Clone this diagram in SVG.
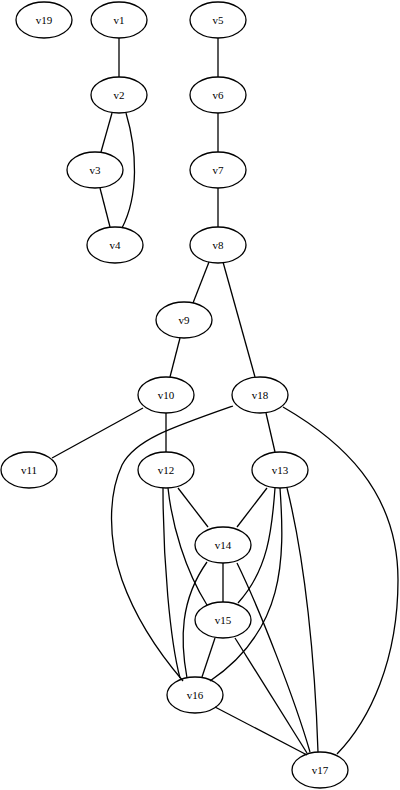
<svg xmlns="http://www.w3.org/2000/svg" width="400" height="790" viewBox="0 0 400 790">
<style>
.n ellipse{fill:none;stroke:#000;stroke-width:1.3}
.n text{font-family:"Liberation Serif","DejaVu Serif",serif;font-size:11px;text-anchor:middle;dominant-baseline:central;fill:#000}
.e path{fill:none;stroke:#000;stroke-width:1.3}
</style>
<rect width="400" height="790" fill="#fff"/>
<g id="edges" class="e">
<path d="M119,38 L119,77"/>
<path d="M112,113 L101,152"/>
<path d="M126,113 C137,150 139,195 122,228"/>
<path d="M100,188 L110,227"/>
<path d="M218,38 L218,77"/>
<path d="M218,113 L218,152"/>
<path d="M218,188 L218,227"/>
<path d="M209,262 L193,303"/>
<path d="M223,262 L255,377"/>
<path d="M180,338 L170,377"/>
<path d="M143,408 L52,458"/>
<path d="M166,413 L166,452"/>
<path d="M266,413 L275,452"/>
<path d="M233,406 C170,428 135,440 122,465 C108,495 108,540 122,580 C138,625 165,660 183,681"/>
<path d="M283,407 C340,440 398,490 398,580 C398,660 370,720 337,754"/>
<path d="M178,488 L208,527"/>
<path d="M168,488 C172,525 185,570 207,605"/>
<path d="M163,488 C163,560 170,640 180,678"/>
<path d="M267,488 L237,527"/>
<path d="M275,488 C272,530 268,570 238,603"/>
<path d="M280,488 C285,560 285,630 210,681"/>
<path d="M287,488 C305,560 315,660 318,752"/>
<path d="M223,563 L223,602"/>
<path d="M207,562 C180,600 180,640 187,678"/>
<path d="M237,563 C260,610 295,700 310,752"/>
<path d="M215,638 L202,677"/>
<path d="M235,638 L307,753"/>
<path d="M215,707 L307,755"/>
</g>
<g id="v19" class="n"><ellipse cx="44" cy="20" rx="28" ry="18"/><text x="44" y="20">v19</text></g>
<g id="v1" class="n"><ellipse cx="119" cy="20" rx="28" ry="18"/><text x="119" y="20">v1</text></g>
<g id="v5" class="n"><ellipse cx="218" cy="20" rx="28" ry="18"/><text x="218" y="20">v5</text></g>
<g id="v2" class="n"><ellipse cx="119" cy="95" rx="28" ry="18"/><text x="119" y="95">v2</text></g>
<g id="v6" class="n"><ellipse cx="218" cy="95" rx="28" ry="18"/><text x="218" y="95">v6</text></g>
<g id="v3" class="n"><ellipse cx="95" cy="170" rx="28" ry="18"/><text x="95" y="170">v3</text></g>
<g id="v7" class="n"><ellipse cx="218" cy="170" rx="28" ry="18"/><text x="218" y="170">v7</text></g>
<g id="v4" class="n"><ellipse cx="115" cy="245" rx="28" ry="18"/><text x="115" y="245">v4</text></g>
<g id="v8" class="n"><ellipse cx="218" cy="245" rx="28" ry="18"/><text x="218" y="245">v8</text></g>
<g id="v9" class="n"><ellipse cx="184" cy="320" rx="28" ry="18"/><text x="184" y="320">v9</text></g>
<g id="v10" class="n"><ellipse cx="166" cy="395" rx="28" ry="18"/><text x="166" y="395">v10</text></g>
<g id="v18" class="n"><ellipse cx="260" cy="395" rx="28" ry="18"/><text x="260" y="395">v18</text></g>
<g id="v11" class="n"><ellipse cx="29" cy="470" rx="28" ry="18"/><text x="29" y="470">v11</text></g>
<g id="v12" class="n"><ellipse cx="166" cy="470" rx="28" ry="18"/><text x="166" y="470">v12</text></g>
<g id="v13" class="n"><ellipse cx="280" cy="470" rx="28" ry="18"/><text x="280" y="470">v13</text></g>
<g id="v14" class="n"><ellipse cx="223" cy="545" rx="28" ry="18"/><text x="223" y="545">v14</text></g>
<g id="v15" class="n"><ellipse cx="223" cy="620" rx="28" ry="18"/><text x="223" y="620">v15</text></g>
<g id="v16" class="n"><ellipse cx="195" cy="695" rx="28" ry="18"/><text x="195" y="695">v16</text></g>
<g id="v17" class="n"><ellipse cx="320" cy="770" rx="28" ry="18"/><text x="320" y="770">v17</text></g>
</svg>
